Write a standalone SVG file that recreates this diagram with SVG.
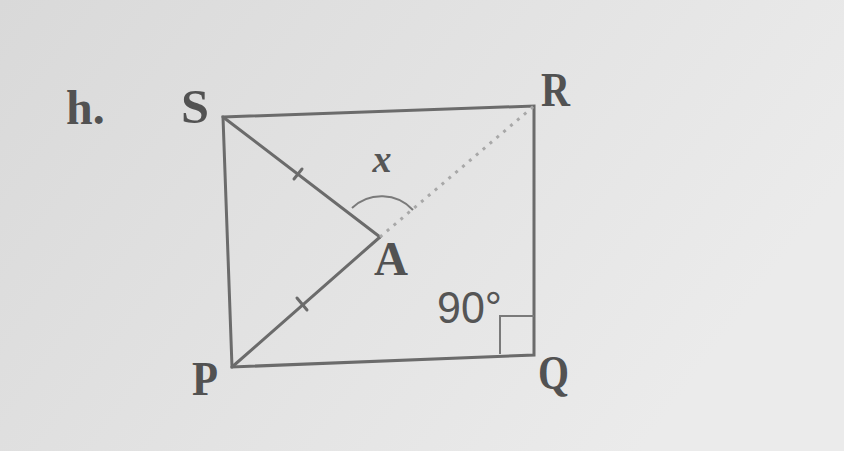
<svg xmlns="http://www.w3.org/2000/svg" width="844" height="451" viewBox="0 0 844 451">
<defs>
<linearGradient id="bg" x1="0" y1="0" x2="1" y2="0.4">
<stop offset="0" stop-color="#d9d9d9"/>
<stop offset="0.5" stop-color="#e2e2e2"/>
<stop offset="1" stop-color="#ebebeb"/>
</linearGradient>
<style>
.ln{stroke:#6b6b6b;stroke-width:3;fill:none;stroke-linecap:round}
.th{stroke:#7a7a7a;stroke-width:2;fill:none}
.lbl{font-family:"Liberation Serif",serif;font-weight:bold;fill:#525252;font-size:48px}
</style>
</defs>
<rect width="844" height="451" fill="url(#bg)"/>
<g id="connectors">
<path class="ln" d="M223,117 L534,106 L534,355 L232,367 Z"/>
<line class="ln" x1="223" y1="117" x2="380" y2="237"/>
<line class="ln" x1="232" y1="367" x2="380" y2="237"/>
<line x1="380" y1="237" x2="534" y2="106" stroke="#a8a8a8" stroke-width="3" stroke-dasharray="3 6"/>
<path class="th" d="M352,208 A43,43 0 0 1 413,210"/>
<line class="ln" x1="294" y1="179" x2="302" y2="169" stroke-width="3.5"/>
<line class="ln" x1="297" y1="298" x2="307" y2="310" stroke-width="3.5"/>
<path class="th" d="M500,354 L500,316 L534,316"/>
</g>
<g id="label-h"><text class="lbl" x="66" y="124" font-size="70">h.</text></g>
<g id="node-S"><text class="lbl" x="181" y="123" font-size="50" textLength="28" lengthAdjust="spacingAndGlyphs">S</text></g>
<g id="node-R"><text class="lbl" x="541" y="106" textLength="29" lengthAdjust="spacingAndGlyphs">R</text></g>
<g id="node-A"><text class="lbl" x="374" y="275" textLength="34" lengthAdjust="spacingAndGlyphs">A</text></g>
<g id="node-P"><text class="lbl" x="192" y="395" textLength="26" lengthAdjust="spacingAndGlyphs">P</text></g>
<g id="node-Q"><text class="lbl" x="538" y="389" textLength="31" lengthAdjust="spacingAndGlyphs">Q</text></g>
<g id="label-x"><text x="382" y="172" font-family="Liberation Serif,serif" font-style="italic" font-weight="bold" font-size="38" fill="#555" text-anchor="middle">x</text></g>
<g id="label-90"><text x="437" y="323" font-family="Liberation Sans,sans-serif" font-size="44" fill="#555" textLength="65" lengthAdjust="spacingAndGlyphs">90°</text></g>
</svg>
